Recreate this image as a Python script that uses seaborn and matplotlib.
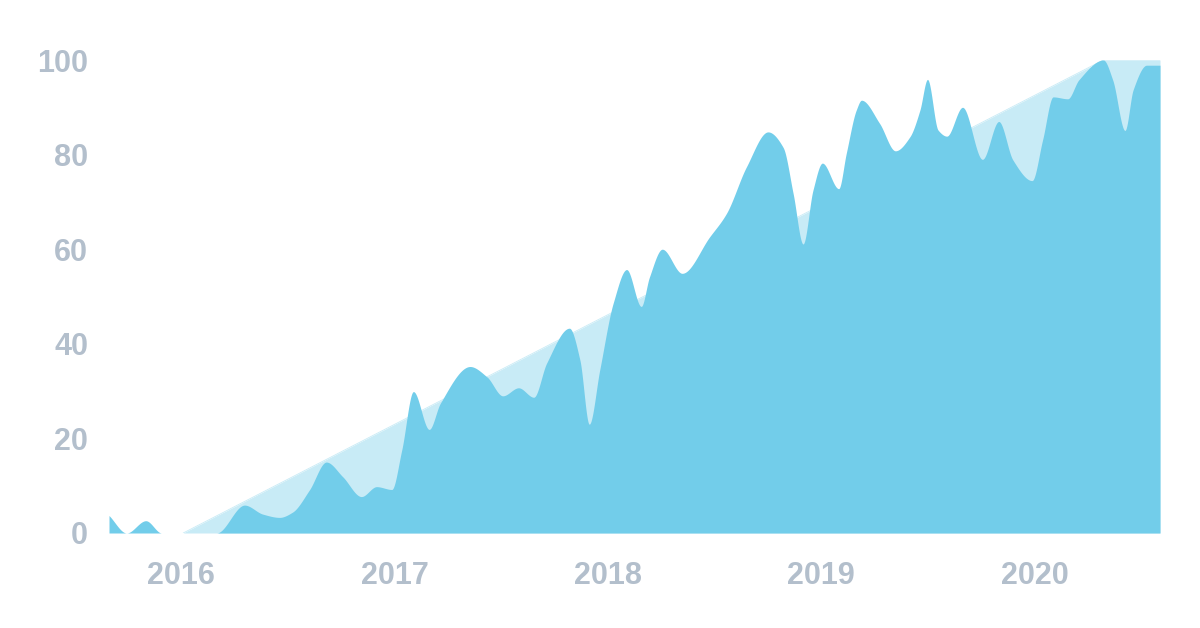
import numpy as np
import pandas as pd
import matplotlib
matplotlib.use("Agg")
import matplotlib.pyplot as plt
import matplotlib.dates as mdates
import seaborn as sns

# valores
datas = ["2015-08-31", "2015-09-30", "2015-11-02", "2015-11-29", "2016-01-16",
         "2016-03-02", "2016-04-19", "2016-05-20", "2016-06-18", "2016-07-10",
         "2016-08-08", "2016-09-06", "2016-10-04", "2016-11-05", "2016-12-01",
         "2016-12-27", "2017-01-13", "2017-02-02", "2017-03-01", "2017-03-20",
         "2017-05-10", "2017-06-08", "2017-07-05", "2017-08-01", "2017-08-27",
         "2017-09-18", "2017-10-27", "2017-11-14", "2017-11-30", "2017-12-18",
         "2018-01-10", "2018-02-02", "2018-02-27", "2018-03-13", "2018-04-04",
         "2018-05-08", "2018-06-24", "2018-07-23", "2018-08-26", "2018-10-02",
         "2018-10-28", "2018-11-14", "2018-12-01", "2018-12-18", "2019-01-03",
         "2019-01-31", "2019-02-13", "2019-03-02", "2019-03-11", "2019-04-11",
         "2019-05-08", "2019-06-02", "2019-06-19", "2019-07-02", "2019-07-20",
         "2019-08-04", "2019-08-31", "2019-10-04", "2019-11-01", "2019-11-25",
         "2019-12-28", "2020-01-15", "2020-02-02", "2020-02-27", "2020-03-17",
         "2020-04-28", "2020-05-14", "2020-06-04", "2020-06-18", "2020-07-11",
         "2020-08-03"]
valores = [3.7, 0, 2.6, 0, 0,
           0, 5.9, 4.0, 3.3, 4.4,
           9.1, 15.0, 11.9, 7.7, 9.8,
           9.2, 17.5, 29.9, 21.9, 27.4,
           35.2, 33.0, 29.0, 30.7, 28.7,
           35.9, 43.3, 36.6, 23.0, 34.5,
           48.6, 55.7, 47.9, 54.1, 60.0,
           54.9, 62.6, 67.6, 77.4, 84.8,
           81.5, 71.8, 61.1, 72.5, 78.2,
           72.8, 80.3, 89.4, 91.5, 86.6,
           80.8, 83.8, 89.4, 95.9, 85.2,
           83.9, 90.0, 79.0, 87.0, 78.9,
           74.5, 83.1, 92.2, 91.8, 95.8,
           100.0, 95.8, 85.1, 93.7, 98.9,
           98.9]

# meta (area clara)
datas_meta = ["2016-01-05", "2020-04-28", "2020-08-03"]
valores_meta = [0, 100, 100]

cor_escura = "#72CDEA"
cor_clara = "#C8EBF6"
cor_texto = "#B3BFCC"


def suavizar(x, y, n=2000):
    # curva monotona (hermite) so para desenhar
    x = np.asarray(x, float)
    y = np.asarray(y, float)
    h = np.diff(x)
    d = np.diff(y) / h
    m = np.zeros_like(y)
    m[0], m[-1] = d[0], d[-1]
    for i in range(1, len(y) - 1):
        if d[i - 1] * d[i] > 0:
            w1 = 2 * h[i] + h[i - 1]
            w2 = h[i] + 2 * h[i - 1]
            m[i] = (w1 + w2) / (w1 / d[i - 1] + w2 / d[i])
    xs = np.linspace(x[0], x[-1], n)
    k = np.clip(np.searchsorted(x, xs) - 1, 0, len(x) - 2)
    t = (xs - x[k]) / h[k]
    h00 = 2 * t**3 - 3 * t**2 + 1
    h10 = t**3 - 2 * t**2 + t
    h01 = -2 * t**3 + 3 * t**2
    h11 = t**3 - t**2
    ys = h00 * y[k] + h10 * h[k] * m[k] + h01 * y[k + 1] + h11 * h[k] * m[k + 1]
    return xs, ys


sns.set_theme(style="white")
plt.rcParams['font.family'] = ['Liberation Sans', 'DejaVu Sans']

df = pd.DataFrame({"data": pd.to_datetime(datas), "valor": valores})
df_meta = pd.DataFrame({"data": pd.to_datetime(datas_meta), "valor": valores_meta})

fig = plt.figure(figsize=(12, 6.28), dpi=100)
ax = fig.add_axes([109 / 1200, 95 / 628, 1051 / 1200, 473 / 628])

xm = mdates.date2num(df_meta["data"])
ax.fill_between(xm, 0, df_meta["valor"], color=cor_clara, linewidth=0, zorder=1)
sns.lineplot(x=xm, y=df_meta["valor"], ax=ax, color=cor_clara, linewidth=0.6, zorder=1)

xs, ys = suavizar(mdates.date2num(df["data"]), df["valor"])
ax.fill_between(xs, 0, ys, color=cor_escura, linewidth=0, zorder=3)

ax.set_xlim(mdates.date2num(df["data"].iloc[0]), mdates.date2num(df["data"].iloc[-1]))
ax.set_ylim(0, 100)
ax.set_yticks([0, 20, 40, 60, 80, 100])
ax.xaxis.set_major_locator(mdates.YearLocator())
ax.xaxis.set_major_formatter(mdates.DateFormatter("%Y"))
ax.tick_params(axis="y", length=0, pad=15, labelsize=22, labelcolor=cor_texto)
ax.tick_params(axis="x", length=0, pad=20, labelsize=22, labelcolor=cor_texto)
for lab in ax.get_xticklabels() + ax.get_yticklabels():
    lab.set_fontweight("bold")
sns.despine(ax=ax, left=True, bottom=True)
ax.set_xlabel("")
ax.set_ylabel("")

fig.savefig("out.png", dpi=100)
